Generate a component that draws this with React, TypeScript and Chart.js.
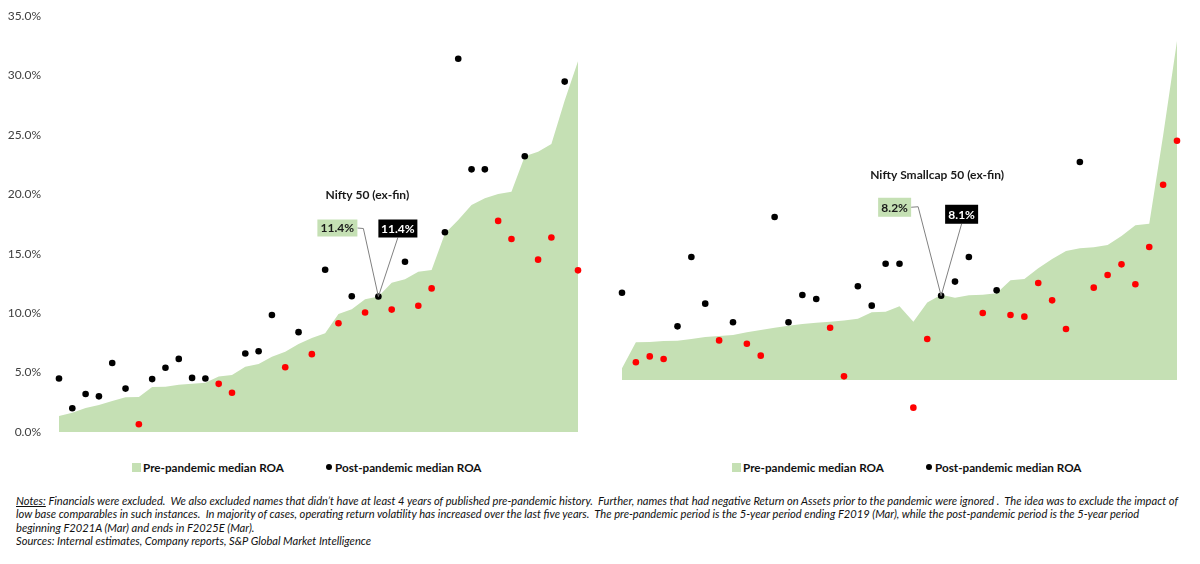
import { useEffect, useRef } from "react";
import Chart from "chart.js/auto";

// Nifty 50 (ex-fin): pre- vs post-pandemic median ROA, %, sorted by pre
const niftyPre = [
  1.35, 1.63, 2.02, 2.27, 2.61, 2.92, 2.94, 3.79, 3.81, 3.98,
  4.07, 4.15, 4.66, 4.8, 5.5, 5.72, 6.34, 6.76, 7.4, 7.9,
  8.3, 9.93, 10.32, 11.16, 11.4, 12.56, 12.85, 13.49, 13.63, 16.7,
  17.84, 19.1, 19.66, 20.02, 20.22, 23.2, 23.58, 24.23, 27.9, 31.2,
];
const niftyPost = [
  4.5, 2.0, 3.2, 3.0, 5.8, 3.65, 0.65, 4.45, 5.4, 6.15,
  4.55, 4.5, 4.05, 3.3, 6.6, 6.8, 9.85, 5.45, 8.4, 6.55,
  13.65, 9.15, 11.42, 10.05, 11.4, 10.3, 14.32, 10.62, 12.08, 16.8,
  31.4, 22.1, 22.1, 17.76, 16.24, 23.2, 14.5, 16.36, 29.48, 13.6,
];
const niftyMedian = 24;
const niftyTicks = [0, 5, 10, 15, 20, 25, 30, 35];

// Nifty Smallcap 50 (ex-fin)
const smallPre = [
  1.12, 3.63, 3.65, 3.75, 3.78, 3.94, 4.13, 4.23, 4.33, 4.58,
  4.81, 5.03, 5.22, 5.38, 5.51, 5.61, 5.71, 5.9, 6.51, 6.57,
  7.08, 5.61, 7.44, 8.2, 7.92, 8.14, 8.2, 8.33, 9.58, 9.71,
  10.74, 11.63, 12.4, 12.66, 12.76, 12.98, 13.85, 14.87, 15.03, 23.5,
  32.6,
];
const smallPost = [
  8.39, 1.7, 2.27, 2.02, 5.16, 11.83, 7.34, 3.81, 5.55, 3.49,
  2.34, 15.67, 5.55, 8.17, 7.79, 5.03, 0.35, 9.01, 7.15, 11.18,
  11.18, -2.66, 3.94, 8.1, 9.46, 11.83, 6.44, 8.62, 6.25, 6.09,
  9.33, 7.66, 4.9, 20.96, 8.88, 10.1, 11.12, 9.2, 12.79, 18.78,
  23.01,
];
const smallMedian = 23;

const green = "#c5e0b4";
const red = "#ff0000";
const black = "#000000";
const font = "Lato, 'Open Sans', sans-serif";

type Callout = {
  title: string;
  index: number;
  title_dx: number;
  title_dy: number;
  pre: [number, number, number, number];
  elbow: [number, number];
  post: [number, number, number, number];
};

const calloutPlugin = {
  id: "callout",
  afterDatasetsDraw(chart: any) {
    const c: Callout | undefined = chart.options.plugins.callout?.cfg;
    if (!c) return;
    const pt = chart.getDatasetMeta(0).data[c.index];
    const ax = pt.x;
    const ay = pt.y;
    const preVal = chart.data.datasets[1].data[c.index];
    const postVal = chart.data.datasets[0].data[c.index];
    const ctx = chart.ctx;
    ctx.save();
    ctx.strokeStyle = "#808080";
    ctx.lineWidth = 1;
    // leader lines
    const [px, py, pw, ph] = c.pre;
    ctx.beginPath();
    ctx.moveTo(ax + px + pw, ay + py + ph / 2);
    ctx.lineTo(ax + c.elbow[0], ay + c.elbow[1]);
    ctx.lineTo(ax, ay);
    ctx.stroke();
    const [qx, qy, qw, qh] = c.post;
    ctx.beginPath();
    ctx.moveTo(ax + qx + qw / 2, ay + qy + qh);
    ctx.lineTo(ax, ay);
    ctx.stroke();
    // boxes
    ctx.font = `bold 12px ${font}`;
    ctx.textAlign = "center";
    ctx.textBaseline = "middle";
    ctx.fillStyle = green;
    ctx.fillRect(ax + px, ay + py, pw, ph);
    ctx.fillStyle = "#1a1a1a";
    ctx.fillText(`${Number(preVal).toFixed(1)}%`, ax + px + pw / 2, ay + py + ph / 2 + 0.5);
    ctx.fillStyle = black;
    ctx.fillRect(ax + qx, ay + qy, qw, qh);
    ctx.fillStyle = "#ffffff";
    ctx.fillText(`${Number(postVal).toFixed(1)}%`, ax + qx + qw / 2, ay + qy + qh / 2 + 0.5);
    // title
    ctx.fillStyle = "#1a1a1a";
    ctx.fillText(c.title, ax + c.title_dx, ay + c.title_dy);
    ctx.restore();
  },
};

function makeChart(
  canvas: HTMLCanvasElement,
  pre: number[],
  post: number[],
  median: number,
  yMin: number,
  yMax: number,
  showY: boolean,
  pad: { left: number; right: number },
  callout: Callout,
): Chart {
  const colors = post.map((v, i) => (i !== median && v < pre[i] ? red : black));
  const labels = post.map((_, i) => String(i + 1));
  return new Chart(canvas, {
    type: "line",
    data: {
      labels,
      datasets: [
        {
          label: "Post-pandemic median ROA",
          data: post,
          showLine: false,
          pointRadius: 3.3,
          pointBackgroundColor: colors,
          pointBorderColor: colors,
          pointBorderWidth: 0,
          order: 0,
        },
        {
          label: "Pre-pandemic median ROA",
          data: pre,
          fill: "origin",
          backgroundColor: green,
          borderColor: "transparent",
          borderWidth: 0,
          pointRadius: 0,
          tension: 0,
          order: 1,
        },
      ],
    },
    options: {
      responsive: true,
      maintainAspectRatio: false,
      animation: false,
      layout: { padding: { top: 16, bottom: 18, left: pad.left, right: pad.right } },
      plugins: {
        legend: { display: false },
        tooltip: { enabled: false },
        // @ts-ignore
        callout: { cfg: callout },
      },
      scales: {
        x: { display: false },
        y: {
          display: showY,
          min: yMin,
          max: yMax,
          grid: { display: false, drawTicks: false },
          border: { display: false },
          afterBuildTicks: (s: any) => {
            if (showY) s.ticks = niftyTicks.map((value) => ({ value }));
          },
          afterFit: (s: any) => {
            if (!showY) return;
            s.width = 59;
            s.paddingTop = 0;
            s.paddingBottom = 0;
          },
          ticks: {
            padding: 18,
            color: "#404040",
            font: { family: font, size: 12 },
            callback: (v: any) => `${Number(v).toFixed(1)}%`,
          },
        },
      },
    },
    plugins: [calloutPlugin],
  });
}

const css = `
  .roa-wrap { position: absolute; left: 0; top: 0; width: 1200px; height: 564px; background: #fff; font-family: ${font}; overflow: hidden; }
  .roa-wrap .cv { position: absolute; top: 0; width: 600px; height: 450px; }
  .roa-wrap .lg { position: absolute; top: 459px; height: 16px; display: flex; align-items: center; font-weight: 700; font-size: 11.7px; color: #111; white-space: nowrap; }
  .roa-wrap .sq { width: 9px; height: 9px; background: ${green}; margin-right: 2px; }
  .roa-wrap .dot { width: 6px; height: 6px; border-radius: 50%; background: #000; margin-right: 3px; }
  .roa-wrap .notes { position: absolute; left: 16px; top: 494px; font-style: italic; font-size: 11.2px; line-height: 13.4px; color: #111; white-space: pre; transform-origin: 0 0; }
  .roa-wrap .notes u { text-decoration: underline; }
`;

export default function App() {
  const c1 = useRef<HTMLCanvasElement>(null);
  const c2 = useRef<HTMLCanvasElement>(null);
  const notes = useRef<HTMLDivElement>(null);
  const line1 = useRef<HTMLDivElement>(null);

  useEffect(() => {
    if (!c1.current || !c2.current) return;
    const charts = [
      makeChart(c1.current, niftyPre, niftyPost, niftyMedian, 0, 35, true, { left: 0, right: 22 }, {
        title: "Nifty 50 (ex-fin)",
        index: niftyMedian,
        title_dx: -11,
        title_dy: -101,
        pre: [-61, -77, 40, 17],
        elbow: [-15, -68],
        post: [0, -77, 39, 18],
      }),
      makeChart(c2.current, smallPre, smallPost, smallMedian, -5, 35, false, { left: 22, right: 23 }, {
        title: "Nifty Smallcap 50 (ex-fin)",
        index: smallMedian,
        title_dx: -4,
        title_dy: -121,
        pre: [-63, -98, 33, 19],
        elbow: [-23, -89],
        post: [4, -91, 33, 19],
      }),
    ];
    if (notes.current && line1.current) {
      const w = line1.current.getBoundingClientRect().width;
      notes.current.style.transform = `scaleX(${1162 / w})`;
    }
    return () => charts.forEach((ch) => ch.destroy());
  }, []);

  return (
    <div className="roa-wrap">
      <style>{css}</style>
      <div className="cv" style={{ left: 0 }}>
        <canvas ref={c1} />
      </div>
      <div className="cv" style={{ left: 600 }}>
        <canvas ref={c2} />
      </div>
      <div className="lg" style={{ left: 132 }}>
        <div className="sq" />Pre-pandemic median ROA
      </div>
      <div className="lg" style={{ left: 326 }}>
        <div className="dot" />Post-pandemic median ROA
      </div>
      <div className="lg" style={{ left: 732 }}>
        <div className="sq" />Pre-pandemic median ROA
      </div>
      <div className="lg" style={{ left: 926 }}>
        <div className="dot" />Post-pandemic median ROA
      </div>
      <div className="notes" ref={notes}>
        <div ref={line1} style={{ display: "inline-block" }}>
          <u>Notes:</u>{" Financials were excluded.  We also excluded names that didn’t have at least 4 years of published pre-pandemic history.  Further, names that had negative Return on Assets prior to the pandemic were ignored .  The idea was to exclude the impact of"}
        </div>
        <div>{"low base comparables in such instances.  In majority of cases, operating return volatility has increased over the last five years.  The pre-pandemic period is the 5-year period ending F2019 (Mar), while the post-pandemic period is the 5-year period"}</div>
        <div>{"beginning F2021A (Mar) and ends in F2025E (Mar)."}</div>
        <div>{"Sources: Internal estimates, Company reports, S&P Global Market Intelligence"}</div>
      </div>
    </div>
  );
}
